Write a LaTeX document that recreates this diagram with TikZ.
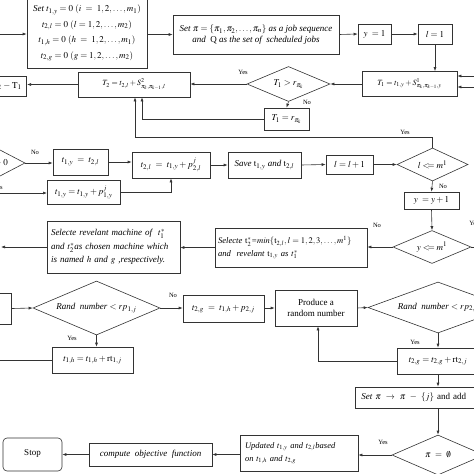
\documentclass[tikz,border=0pt]{standalone}
\usepackage{mathptmx}
\usepackage{fontspec}
\setmainfont{Liberation Serif}
\usetikzlibrary{shapes.geometric,arrows.meta,calc}
\begin{document}
\begin{tikzpicture}[x=1pt,y=-1pt,
  sz/.style 2 args={minimum width=#1pt,minimum height=#2pt},
  box/.style={draw=black!80,line width=0.6pt,inner sep=1pt,font=\fontsize{9}{10.5}\selectfont\itshape,align=center},
  dia/.style n args={3}{draw=black!80,line width=0.6pt,diamond,inner sep=0pt,minimum width=#1pt,minimum height=#2pt,aspect=#3,font=\fontsize{9}{10.5}\selectfont\itshape},
  lab/.style={font=\fontsize{6.5}{7}\selectfont,inner sep=0pt},
  arr/.style={-{Latex[length=4pt,width=3pt]},line width=0.6pt,draw=black!80},
  ln/.style={line width=0.6pt,draw=black!80}]
\useasboundingbox (0,0) rectangle (474,474);
\clip (0,0) rectangle (474,474);
% ---------- row 1
\node[box,sz={120}{70},font=\fontsize{9}{15.5}\selectfont\itshape] (init) at (87,33)
  {Set $t_{1,y}=0\ (i\ =\ 1,2,\ldots,m_1)$\\ $t_{2,l}=0\ (l=1,2,\ldots,m_2)$\\ $t_{1,h}=0\ (h\ =\ 1,2,\ldots,m_1)$\\ $t_{2,g}=0\ (g=1,2,\ldots,m_2)$};
\coordinate (in0) at (-5,34);
\node[box,sz={166}{39}] (seq) at (256,34.5)
  {Set $\pi=\{\pi_1,\pi_2,\ldots,\pi_n\}$ as a job sequence\\ and\ \ \textup{Q} as the set of\ \ scheduled jobs};
\node[box,sz={33}{20}] (y1) at (374.5,34) {$y\ =1$};
\node[box,sz={34}{20}] (l1) at (435,34) {$l=1$};
% ---------- row 2
\node[box,sz={95}{25},font=\fontsize{8}{9.5}\selectfont\itshape] (T1) at (409.5,84) {$T_1=t_{1,y}+S^1_{\pi_k,\pi_{k-1},y}$};
\coordinate (r1) at (480,76);
\coordinate (r2) at (480,87);
\node[dia={83}{35}{2.37}] (dT) at (288.5,84) {$T_1>r_{\pi_k}$};
\node[box,sz={112}{25},font=\fontsize{8}{9.5}\selectfont\itshape] (T2) at (134,84.5) {$T_2=t_{2,l}+S^2_{\pi_k,\pi_{k-1},l}$};
\node[box,sz={45}{22},anchor=center] (T1r) at (286.5,119) {$T_1=r_{\pi_k}$};
\node[box,sz={60}{20},anchor=east,text width=50pt,align=right,inner xsep=5pt] (Dd) at (27,86) {$\mathrm{T}_2-\mathrm{T}_1$};
% ---------- row 3
\node[dia={84}{44}{1.92},text width=50pt,align=right,font=\fontsize{9}{10.5}\selectfont] (dz) at (-17,163) {$\mathrm{T}_2-\mathrm{T}_1>0$};
\node[box,sz={55}{26}] (b31) at (80.5,162) {$t_{1,y}\ =\ t_{2,l}$};
\node[box,sz={78}{26}] (b32) at (171,165) {$t_{2,l}\ =\ t_{1,y}+p^j_{2,l}$};
\node[box,sz={73}{24}] (b33) at (47,192.5) [anchor=west] {$t_{1,y}=t_{1,y}+p^j_{1,y}$};
\coordinate (in3) at (-5,193);
\node[box,sz={73}{26}] (save) at (264.5,165) {Save $\mathrm{t}_{1,y}$ and $\mathrm{t}_{2,l}$};
\node[box,sz={47}{19}] (lpp) at (349.5,164.5) {$l=l+1$};
\node[dia={71}{33}{2.15}] (dl) at (432.5,164.5) {$l\mathrel{<\!\!=}m^1$};
\node[box,sz={55}{17}] (ypp) at (431.5,200.5) {$y\ =y+1$};
\node[dia={78}{33}{2.36}] (dy) at (432,247) {$y\mathrel{<\!\!=}m^1$};
\coordinate (out4) at (480,247);
% ---------- row 4
\node[box,sz={152}{39},align=left,text width=146pt,font=\fontsize{8.6}{12.5}\selectfont\itshape] (selA) at (291,247.5)
  {Selecte $\mathrm{t}_2^*$=$min\{\mathrm{t}_{2,l},l=1,2,3,\ldots,m^1\}$\\ and\ \ revelant $\mathrm{t}_{1,y}$ as $t_1^*$};
\node[box,sz={133}{52},align=left,text width=125pt,font=\fontsize{9}{13.5}\selectfont\itshape] (selB) at (113.5,247)
  {Selecte revelant machine of\ \ $t_1^*$\\ and $t_2^*$as chosen machine which\\ is named $h$ and $g$ ,respectively.};
\coordinate (out5) at (1,247);
% ---------- row 5
\node[box,sz={40}{31},anchor=east] (lb) at (12,308.5) {};
\node[dia={127}{54}{2.35}] (d1) at (96.5,308) {Rand\ \ number $<rp_{1,j}$};
\node[box,sz={81}{27}] (t2gA) at (223.5,309) {$t_{2,g}\ =\ t_{1,h}+p_{2,j}$};
\node[box,sz={82}{36},font=\fontsize{9}{11.5}\selectfont] (prod) at (316,308) {Produce a\\ random number};
\node[dia={140}{51}{2.75}] (d2) at (438,307.5) {Rand\ \ number $<rp_{2,j}$};
\node[box,sz={81}{26}] (t1h) at (92.5,360) {$t_{1,h}=t_{1,h}+\mathrm{rt}_{1,j}$};
\coordinate (out6) at (-5,360);
\node[box,sz={82}{26}] (t2gB) at (438,361) {$t_{2,g}=t_{2,g}+\mathrm{rt}_{2,j}$};
% ---------- row 6
\node[box,sz={166}{21},anchor=west,text width=154pt,align=left,inner xsep=6pt] (setpi) at (355,397.5) {Set $\pi\ \rightarrow\ \pi\ -\ \{j\}$ \textup{and add}};
\node[dia={92}{40}{2.3}] (dpi) at (438,455) {$\pi\ =\ \emptyset$};
\node[box,sz={118}{36},align=left,text width=108pt,font=\fontsize{8.5}{13}\selectfont\itshape] (upd) at (299,453)
  {Updated $t_{1,y}$ and $t_{2,l}$based\\ on $t_{1,h}$ and $t_{2,g}$};
\node[box,sz={123}{23}] (comp) at (150.5,454.5) {compute\ \ objective\ \ function};
\node[draw=black!80,line width=0.6pt,rounded corners=4pt,sz={59}{33},font=\fontsize{9}{10.5}\selectfont,inner sep=1pt] (stop) at (32.5,454.5) {\raisebox{4pt}{Stop}};
% ---------- connectors
\draw[arr] (in0) -- (init.west |- in0);
\draw[arr] (init.east |- seq.west) -- (seq.west);
\draw[arr] (seq.east) -- (y1.west);
\draw[arr] (y1.east) -- (l1.west);
\draw[arr] (l1.south) -- (l1.south |- T1.north);
\draw[arr] (r1) -- (T1.east |- r1);
\draw[arr] (r2) -- (T1.east |- r2);
\draw[arr] (T1.west) -- (dT.east);
\draw[arr] (dT.west) -- (T2.east |- dT.west);
\draw[arr] (dT.south) -- (T1r.north);
\draw[arr] (T1r.west) -| ([xshift=8pt]T2.south);
\draw[arr] (T2.west) -- (Dd.east |- T2.west);
\draw[arr] (dz.east) -- (b31.west |- dz.east);
\draw[arr] (b31.east) -- (b31.east -| b32.west);
\draw[arr] (in3) -- (b33.west |- in3);
\draw[arr] (b33.east) -| (b32.south);
\draw[arr] (b32.east) -- (save.west);
\draw[arr] (save.east) -- (lpp.west);
\draw[arr] (lpp.east) -- (dl.west);
\draw[arr] (dl.north) -- ($(dl.north)+(0,-10.5)$) -| ([xshift=1pt]T2.south);
\draw[arr] (dl.south) -- (ypp.north);
\draw[arr] (ypp.south) -- (dy.north);
\draw[ln] (dy.east) -- (out4);
\draw[arr] (dy.west) -- (selA.east |- dy.west);
\draw[arr] (selA.west) -- (selB.east |- selA.west);
\draw[arr] (selB.west) -- (out5);
\draw[arr] (lb.east) -- (d1.west);
\draw[arr] (d1.east) -- (t2gA.west |- d1.east);
\draw[arr] (t2gA.east |- prod.west) -- (prod.west);
\draw[arr] (prod.east) -- (d2.west);
\draw[arr] (d1.south) -- (t1h.north -| d1.south);
\draw[ln] (t1h.west) -- (out6);
\draw[arr] (d2.south) -- (t2gB.north);
\draw[arr] (t2gB.west) -| ([xshift=2pt]prod.south);
\draw[arr] (t2gB.south) -- (setpi.north -| t2gB.south);
\draw[arr] (setpi.south -| dpi.north) -- (dpi.north);
\draw[arr] (dpi.west) -- (upd.east |- dpi.west);
\draw[arr] (upd.west |- comp.east) -- (comp.east);
\draw[arr] (comp.west) -- (stop.east);
% ---------- labels
\node[lab] (yes1) at (243,72) {Yes};
\node[lab] (no1) at (307,102) {No};
\node[lab] (no2) at (35,152) {No};
\node[lab] (yes2) at (-2,187) {Yes};
\node[lab] (yes3) at (405,132) {Yes};
\node[lab] (no3) at (443,186) {No};
\node[lab] (no4) at (377,225) {No};
\node[lab] (yes4) at (474,223) {Yes};
\node[lab] (no5) at (173,295) {No};
\node[lab] (yes5) at (72,338) {Yes};
\node[lab] (yes6) at (415,342) {Yes};
\node[lab] (yes7) at (383,442) {Yes};
\end{tikzpicture}
\end{document}
